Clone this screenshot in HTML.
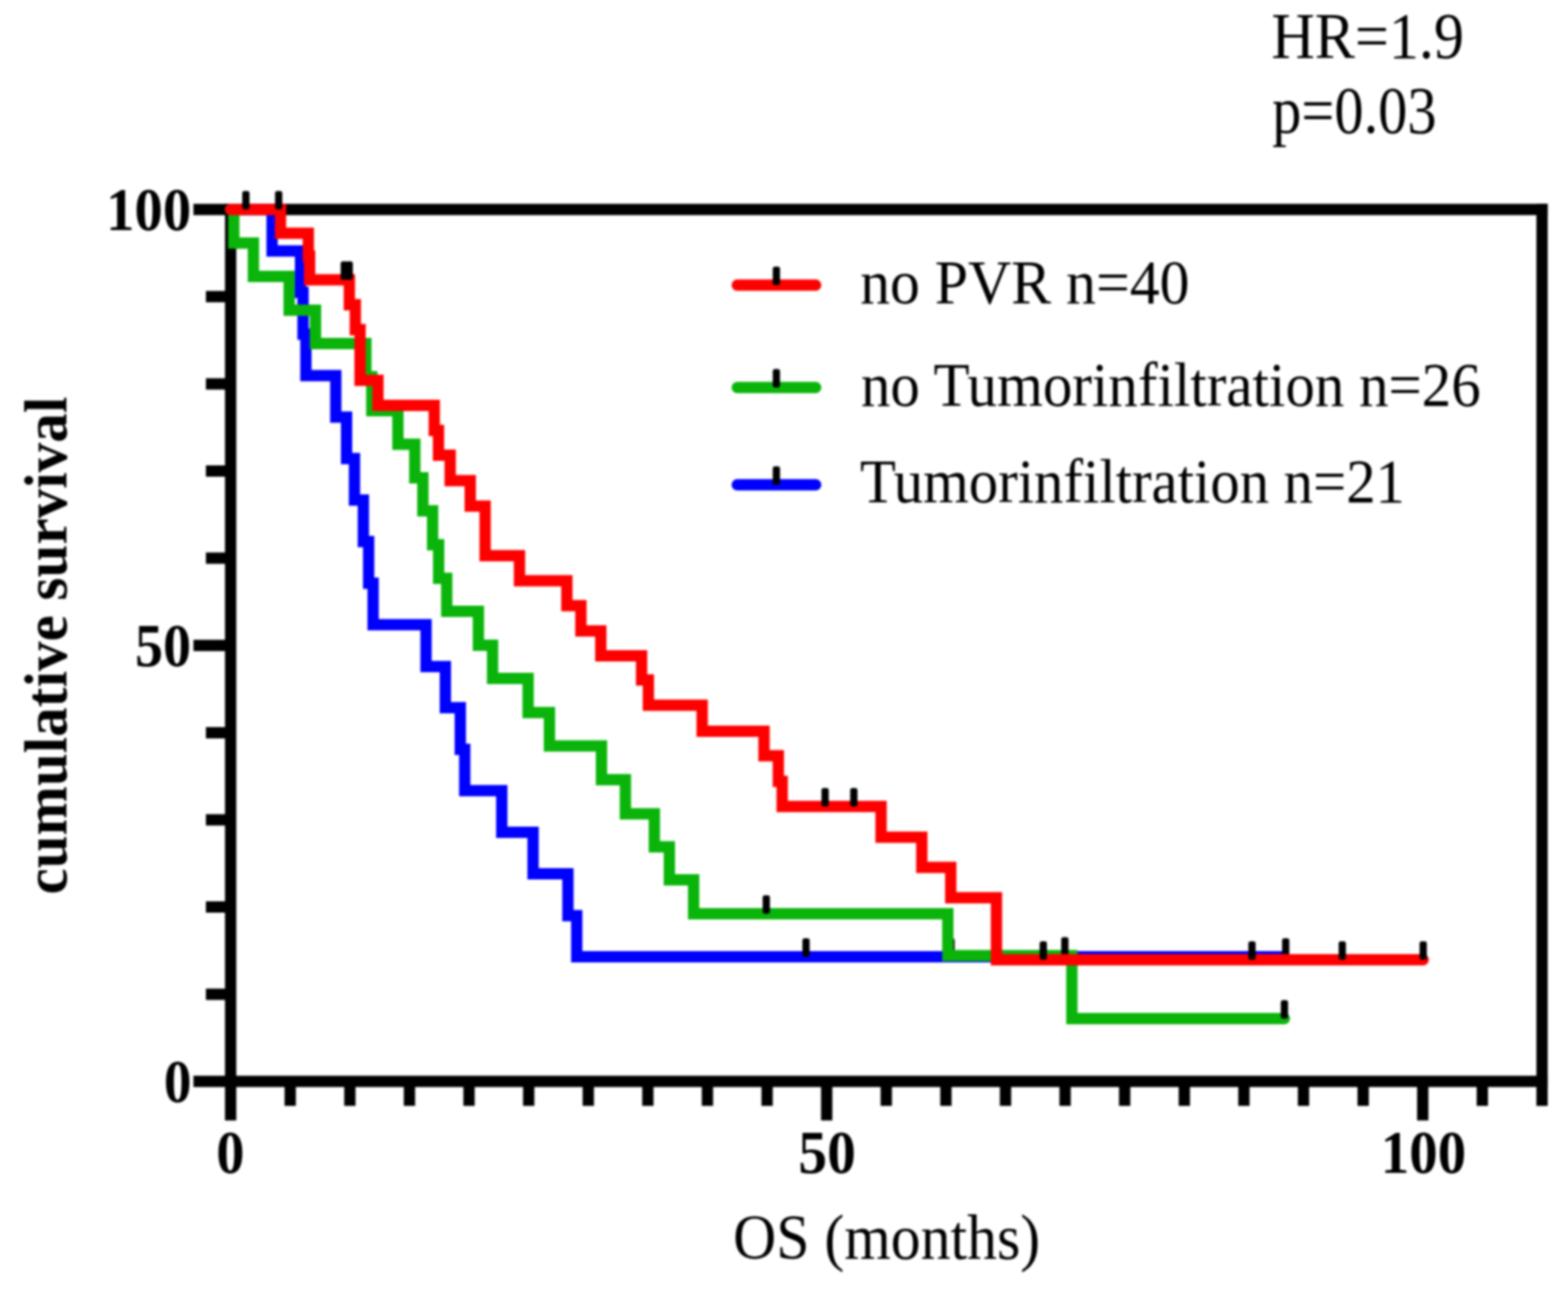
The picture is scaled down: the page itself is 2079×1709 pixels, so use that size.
<!DOCTYPE html><html><head><meta charset="utf-8"><style>html,body{margin:0;padding:0;background:#fff;overflow:hidden}svg{display:block;filter:blur(1.6px)}</style></head><body><svg width="2079" height="1709" viewBox="0 0 2079 1709"><rect width="100%" height="100%" fill="#fff"/><g stroke="#000" stroke-width="15.0" fill="none" stroke-linecap="butt"><line x1="305.8" y1="270.2" x2="305.8" y2="1485.5"/><line x1="256.5" y1="277.7" x2="2052.1" y2="277.7"/><line x1="256.5" y1="1433.8" x2="2052.1" y2="1433.8"/><line x1="2044.6" y1="270.2" x2="2044.6" y2="1466.2"/><line x1="273.0" y1="1318.2" x2="305.8" y2="1318.2"/><line x1="273.0" y1="1202.6" x2="305.8" y2="1202.6"/><line x1="273.0" y1="1087.0" x2="305.8" y2="1087.0"/><line x1="273.0" y1="971.4" x2="305.8" y2="971.4"/><line x1="273.0" y1="740.1" x2="305.8" y2="740.1"/><line x1="273.0" y1="624.5" x2="305.8" y2="624.5"/><line x1="273.0" y1="508.9" x2="305.8" y2="508.9"/><line x1="273.0" y1="393.3" x2="305.8" y2="393.3"/><line x1="256.5" y1="855.8" x2="305.8" y2="855.8"/><line x1="384.8" y1="1433.8" x2="384.8" y2="1466.2"/><line x1="463.9" y1="1433.8" x2="463.9" y2="1466.2"/><line x1="542.9" y1="1433.8" x2="542.9" y2="1466.2"/><line x1="621.9" y1="1433.8" x2="621.9" y2="1466.2"/><line x1="701.0" y1="1433.8" x2="701.0" y2="1466.2"/><line x1="780.0" y1="1433.8" x2="780.0" y2="1466.2"/><line x1="859.0" y1="1433.8" x2="859.0" y2="1466.2"/><line x1="938.0" y1="1433.8" x2="938.0" y2="1466.2"/><line x1="1017.1" y1="1433.8" x2="1017.1" y2="1466.2"/><line x1="1096.1" y1="1433.8" x2="1096.1" y2="1485.5"/><line x1="1175.1" y1="1433.8" x2="1175.1" y2="1466.2"/><line x1="1254.2" y1="1433.8" x2="1254.2" y2="1466.2"/><line x1="1333.2" y1="1433.8" x2="1333.2" y2="1466.2"/><line x1="1412.2" y1="1433.8" x2="1412.2" y2="1466.2"/><line x1="1491.2" y1="1433.8" x2="1491.2" y2="1466.2"/><line x1="1570.3" y1="1433.8" x2="1570.3" y2="1466.2"/><line x1="1649.3" y1="1433.8" x2="1649.3" y2="1466.2"/><line x1="1728.3" y1="1433.8" x2="1728.3" y2="1466.2"/><line x1="1807.4" y1="1433.8" x2="1807.4" y2="1466.2"/><line x1="1886.4" y1="1433.8" x2="1886.4" y2="1485.5"/><line x1="1965.4" y1="1433.8" x2="1965.4" y2="1466.2"/></g><path d="M305.8 277.7H360.8V332.8H398.5V387.8H401.8V442.9H405.6V497.9H445.2V553.0H459.5V608.0H470.0V663.0H481.8V718.0H488.8V773.2H494.7V828.2H564.9V883.8H590.5V938.2H610.3V993.5H616.2V1048.2H665.3V1103.6H706.8V1158.6H753.0V1214.0H764.7V1268.6H1701.0" fill="none" stroke="#0000ff" stroke-width="15.0" stroke-linejoin="miter" stroke-miterlimit="4" stroke-linecap="round"/><g fill="#000"><rect x="1063.90" y="1244.10" width="9.6" height="24.5" rx="3"/><rect x="1256.20" y="1244.10" width="9.6" height="24.5" rx="3"/><rect x="1699.90" y="1244.10" width="9.6" height="24.5" rx="3"/></g><path d="M305.8 277.7H310.0V322.2H336.0V366.5H383.4V411.2H418.3V455.5H485.1V499.5H493.0V544.4H527.6V588.9H550.0V633.5H560.7V677.2H573.6V722.3H581.6V766.8H592.3V810.6H634.3V855.4H653.1V899.5H700.2V944.8H728.5V989.0H797.5V1033.7H829.2V1079.0H867.6V1122.8H887.5V1166.6H919.7V1211.4H1256.7V1267.0H1421.2V1350.4H1703.0" fill="none" stroke="#0ab40a" stroke-width="15.0" stroke-linejoin="miter" stroke-miterlimit="4" stroke-linecap="round"/><g fill="#000"><rect x="1011.20" y="1186.90" width="9.6" height="24.5" rx="3"/><rect x="1407.10" y="1242.50" width="9.6" height="24.5" rx="3"/><rect x="1698.20" y="1325.90" width="9.6" height="24.5" rx="3"/></g><path d="M305.8 277.7H371.9V309.2H408.8V339.5H410.5V370.9H463.2V404.0H471.1V437.0H477.4V504.3H501.1V537.5H575.8V570.8H581.4V603.4H596.9V637.3H623.5V670.9H643.2V736.8H688.8V770.0H751.6V803.0H770.2V836.6H796.6V869.4H850.7V901.6H859.7V935.1H931.0V969.4H1013.0V1002.0H1032.0V1036.0H1037.1V1069.2H1168.2V1110.0H1222.2V1150.0H1260.6V1190.3H1321.2V1272.5H1887.0" fill="none" stroke="#ff0000" stroke-width="15.0" stroke-linejoin="miter" stroke-miterlimit="4" stroke-linecap="round"/><g fill="#000"><rect x="321.20" y="253.20" width="9.6" height="24.5" rx="3"/><rect x="364.70" y="253.20" width="9.6" height="24.5" rx="3"/><rect x="451.70" y="346.40" width="9.6" height="24.5" rx="3"/><rect x="458.20" y="346.40" width="9.6" height="24.5" rx="3"/><rect x="1089.20" y="1044.70" width="9.6" height="24.5" rx="3"/><rect x="1127.30" y="1044.70" width="9.6" height="24.5" rx="3"/><rect x="1378.50" y="1248.00" width="9.6" height="24.5" rx="3"/><rect x="1655.20" y="1248.00" width="9.6" height="24.5" rx="3"/><rect x="1774.90" y="1248.00" width="9.6" height="24.5" rx="3"/><rect x="1882.20" y="1248.00" width="9.6" height="24.5" rx="3"/></g><line x1="977.5" y1="378.0" x2="1081.5" y2="378.0" stroke="#ff0000" stroke-width="15.0" stroke-linecap="round"/><rect x="1024.60" y="353.50" width="9.6" height="24.5" rx="3" fill="#000"/><line x1="977.5" y1="513.8" x2="1081.5" y2="513.8" stroke="#0ab40a" stroke-width="15.0" stroke-linecap="round"/><rect x="1024.60" y="489.30" width="9.6" height="24.5" rx="3" fill="#000"/><line x1="977.5" y1="642.8" x2="1081.5" y2="642.8" stroke="#0000ff" stroke-width="15.0" stroke-linecap="round"/><rect x="1024.60" y="618.30" width="9.6" height="24.5" rx="3" fill="#000"/><text transform="translate(1685.67 76.80) scale(0.9091 1)" font-family="Liberation Serif, serif" font-weight="normal" font-size="87.73">HR=1.9</text><text transform="translate(1686.82 175.80) scale(0.8819 1)" font-family="Liberation Serif, serif" font-weight="normal" font-size="87.85">p=0.03</text><text transform="translate(1140.40 402.30) scale(0.9497 1)" font-family="Liberation Serif, serif" font-weight="normal" font-size="83.5">no PVR n=40</text><text transform="translate(1141.43 538.30) scale(0.9367 1)" font-family="Liberation Serif, serif" font-weight="normal" font-size="83.5">no Tumorinfiltration n=26</text><text transform="translate(1140.23 665.50) scale(0.9329 1)" font-family="Liberation Serif, serif" font-weight="normal" font-size="83.5">Tumorinfiltration n=21</text><text transform="translate(971.97 1668.70) scale(0.9426 1)" font-family="Liberation Serif, serif" font-weight="normal" font-size="84.06">OS (months)</text><text transform="translate(140.84 304.80) scale(0.9268 1)" font-family="Liberation Serif, serif" font-weight="bold" font-size="81.0">100</text><text transform="translate(179.05 882.50) scale(0.9160 1)" font-family="Liberation Serif, serif" font-weight="bold" font-size="81.0">50</text><text transform="translate(217.18 1461.00) scale(0.9059 1)" font-family="Liberation Serif, serif" font-weight="bold" font-size="81.0">0</text><text transform="translate(286.73 1555.00) scale(0.9235 1)" font-family="Liberation Serif, serif" font-weight="bold" font-size="81.0">0</text><text transform="translate(1058.58 1554.70) scale(0.9400 1)" font-family="Liberation Serif, serif" font-weight="bold" font-size="81.0">50</text><text transform="translate(1830.81 1554.90) scale(0.9321 1)" font-family="Liberation Serif, serif" font-weight="bold" font-size="81.0">100</text><text transform="translate(87.50 1186.05) rotate(-90) scale(0.9768 1)" font-family="Liberation Serif, serif" font-weight="bold" font-size="80.29">cumulative survival</text></svg></body></html>
